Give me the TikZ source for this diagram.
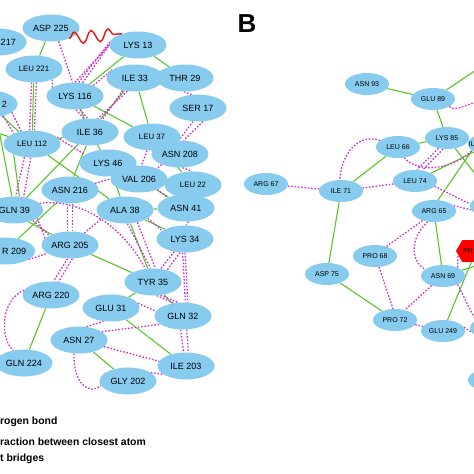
\documentclass[tikz,border=0pt]{standalone}
\usepackage{fontspec}
\setmainfont{Liberation Sans}
\usetikzlibrary{shapes.geometric,decorations.pathmorphing}
\definecolor{nblue}{RGB}{135,203,238}
\definecolor{lgreen}{RGB}{88,200,40}
\definecolor{lmag}{RGB}{204,51,204}
\definecolor{lred}{RGB}{230,20,20}
\pgfdeclarelayer{bg}
\pgfsetlayers{bg,main}
\tikzset{
 lnode/.style={ellipse, fill=nblue, minimum width=57pt, minimum height=27pt, inner sep=0pt, font=\fontsize{9}{9}\selectfont},
 lsmall/.style={lnode, font=\fontsize{7.8}{8}\selectfont},
 rnode/.style={ellipse, fill=nblue, minimum width=44pt, minimum height=22pt, inner sep=0pt, font=\fontsize{7}{7}\selectfont},
 gr/.style={draw=lgreen, line width=1.1pt},
 mg/.style={draw=lmag, line width=1.3pt, dash pattern=on 1.6pt off 1.7pt},
 legend/.style={font=\bfseries\fontsize{10.4}{11}\selectfont, inner sep=0pt, anchor=base west},
}
\begin{document}
\begin{tikzpicture}[x=1pt,y=-1pt]
\useasboundingbox (0,0) rectangle (474,474);
% ---------- panel A nodes
\node[lnode] (asp225) at (51,28) {ASP 225};
\node[lnode] (a217) at (-2,42) {\hphantom{ASP }217};
\node[lnode] (lys13) at (138,45) {LYS 13};
\node[lsmall] (leu221) at (34,69) {LEU 221};
\node[lnode] (ile33) at (135,78) {ILE 33};
\node[lnode] (thr29) at (185,78) {THR 29};
\node[lnode] (lys116) at (75,96) {LYS 116};
\node[lnode] (n2) at (-11,104) {\hphantom{ASP 21}2};
\node[lnode] (ser17) at (198,108) {SER 17};
\node[lnode] (ile36) at (90,132) {ILE 36};
\node[lsmall] (leu37) at (152,137) {LEU 37};
\node[lsmall] (leu112) at (32,144) {LEU 112};
\node[lnode] (asn208) at (180,154) {ASN 208};
\node[lnode] (lys46) at (108,163) {LYS 46};
\node[lnode] (val206) at (139,179) {VAL 206};
\node[lsmall] (leu22) at (193,185) {LEU 22};
\node[lnode] (asn216) at (70,190) {ASN 216};
\node[lnode] (gln39) at (14.5,210) {GLN 39};
\node[lnode] (ala38) at (125,210) {ALA 38};
\node[lnode] (asn41) at (186,208) {ASN 41};
\node[lnode] (r209) at (5,251) {\hphantom{THR}R 209};
\node[lnode] (arg205) at (70,245) {ARG 205};
\node[lnode] (lys34) at (185,239) {LYS 34};
\node[lnode] (tyr35) at (153,282) {TYR 35};
\node[lnode] (arg220) at (51,295) {ARG 220};
\node[lnode] (glu31) at (111,308) {GLU 31};
\node[lnode] (gln32) at (183,316) {GLN 32};
\node[lnode] (asn27) at (79,340) {ASN 27};
\node[lnode] (gln224) at (24,363) {GLN 224};
\node[lnode] (ile203) at (186,366) {ILE 203};
\node[lnode] (gly202) at (128,381) {GLY 202};
\coordinate (cL1) at (-12,130);
\coordinate (cL2) at (-5,110);
% red wavy bond
\draw[lred, line width=1.4pt, decorate, decoration={snake, segment length=17pt, amplitude=6pt}] (asp225.-30) -- (lys13.145);
% ---------- panel B nodes
\node[font=\bfseries\fontsize{26}{26}\selectfont, anchor=base, inner sep=0pt] (lblB) at (247,32) {B};
\node[rnode] (asn93) at (367,84) {ASN 93};
\node[rnode] (glu89) at (433,99) {GLU 89};
\node[rnode] (leu66) at (398,147) {LEU 66};
\node[rnode] (lys85) at (447,138) {LYS 85};
\node[rnode] (pI) at (490,144) {};
\node[font=\fontsize{7}{7}\selectfont, anchor=west, inner sep=0pt] (pItxt) at (468.5,144) {IL};
\node[rnode] (arg67) at (266,184) {ARG 67};
\node[rnode] (ile71) at (341,191) {ILE 71};
\node[rnode] (leu74) at (415,181) {LEU 74};
\node[rnode] (arg65) at (434,211) {ARG 65};
\node[rnode] (pB) at (492,206) {};
\node[regular polygon, regular polygon sides=6, fill=red, minimum size=25pt, inner sep=0pt] (proR) at (468.5,251) {};
\node[font=\fontsize{7}{7}\selectfont, anchor=west, inner sep=0pt] (proTxt) at (463,251) {PR};
\node[rnode] (pro68) at (375,256) {PRO 68};
\node[rnode] (asn69) at (443,276) {ASN 69};
\node[rnode] (asp75) at (327,274) {ASP 75};
\node[rnode] (pro72) at (395,320) {PRO 72};
\node[rnode] (glu249) at (443,331) {GLU 249};
\node[rnode] (pC) at (492,328) {};
\node[rnode] (pD) at (490,380) {};
\coordinate (cTR) at (482,66);
\coordinate (cR2) at (480,180);
\coordinate (cR3) at (482,236);
\coordinate (cR4) at (482,264);
\coordinate (cR5) at (482,100);
% ---------- legend
\node[legend] (lg1) at (0,424) {rogen bond};
\node[legend] (lg2) at (0,445) {raction between closest atom};
\node[legend] (lg3) at (0,461) {t bridges};
% ---------- edges
\begin{pgfonlayer}{bg}
\fill[white] (0,0) rectangle (474,474);
% green A
\path[gr] (asp225) -- (leu221);
\path[gr] (lys13) -- (lys116);
\path[gr] (lys13) -- (thr29);
\path[gr] (leu221) -- (leu112);
\path[gr] (ile33) -- (ile36);
\path[gr] (ile33) -- (leu37);
\path[gr] (lys116) -- (leu37);
\path[gr] (lys116) -- (ile36);
\path[gr] (n2) -- (leu112);
\path[gr] (leu112) -- (ile36);
\path[gr] (leu112) -- (ala38);
\path[gr] (leu112.-150) -- (gln39.70);
\path[gr] (ile36) -- (gln39);
\path[gr] (ile36.-105) -- (asn216.75);
\path[gr] (ile36) -- (lys46);
\path[gr] (leu37) -- (leu22);
\path[gr] (val206) -- (asn41);
\path[gr] (lys46) -- (ala38);
\path[gr] (ala38) -- (asn41);
\path[gr] (ala38) -- (lys34);
\path[gr] (ala38) -- (tyr35);
\path[gr] (gln39.-40) -- (arg205.150);
\path[gr] (asn216) -- (r209);
\path[gr] (arg205) -- (tyr35);
\path[gr] (tyr35) -- (gln32);
\path[gr] (tyr35) -- (glu31);
\path[gr] (arg220) -- (gln224);
\path[gr] (glu31) -- (ile203);
\path[gr] (asn27) -- (gly202);
\path[gr] (cL1) -- (leu112);
\path[gr] (cL2) -- (gln39);
% dotted A
\path[mg] (asp225.-60) -- (lys116.100);
\path[mg] (lys116.60) -- (lys13.160);
\path[mg] (lys116.75) -- (lys13.170);
\path[mg] (lys116.90) -- (lys13.180);
\path[mg] (lys116.30) -- (ile33.160);
\path[mg] (leu221.-30) -- (lys116.160);
\path[mg] (leu221.-100) -- (leu112.100);
\path[mg] (leu221.-80) -- (leu112.80);
\path[mg] (n2.-20) -- (leu112.130);
\path[mg] (n2.-40) -- (leu112.150);
\path[mg] (lys116.-70) -- (ile36.100);
\path[mg] (lys116.-85) -- (ile36.115);
\path[mg] (ile33.-120) -- (ile36.60);
\path[mg] (ile33.-135) -- (ile36.45);
\path[mg] (thr29.-95) -- (ser17.115);
\path[mg] (ser17.-110) -- (asn208.95);
\path[mg] (ser17.-70) -- (asn208.75);
\path[mg] (leu112.-120) -- (gln39.85);
\path[mg] (leu112.-95) -- (gln39.55);
\path[mg] (leu112.15) -- (lys46.160);
\path[mg] (asn216.15) -- (val206.180);
\path[mg] (leu37.-110) -- (val206.80);
\path[mg] (asn208.-150) -- (val206.30);
\path[mg] (asn208.-80) -- (leu22.95);
\path[mg] (val206.-30) -- (asn41.150);
\path[mg] (asn216.-100) -- (arg205.100);
\path[mg] (asn216.-80) -- (arg205.80);
\path[mg] (gln39.-20) -- (arg205.165);
\path[mg] (gln39.-30) -- (arg205.155);
\path[mg] (gln39.15) .. controls (85,198) and (125,230) .. (tyr35.120);
\path[mg] (ala38.-80) -- (tyr35.100);
\path[mg] (ala38.-45) -- (tyr35.80);
\path[mg] (arg205.40) -- (ala38.200);
\path[mg] (r209.-20) -- (arg205.-160);
\path[mg] (arg205.-100) -- (arg220.80);
\path[mg] (arg205.-80) -- (arg220.60);
\path[mg] (arg220.170) .. controls (0,300) and (0,340) .. (gln224.130);
\path[mg] (ala38.-20) -- (lys34.160);
\path[mg] (lys34.-130) -- (tyr35.60);
\path[mg] (lys34.-110) -- (tyr35.40);
\path[mg] (asn41.-80) -- (lys34.85);
\path[mg] (lys34.-100) -- (gln32.80);
\path[mg] (lys34.-90) -- (gln32.70);
\path[mg] (tyr35.-60) -- (gln32.110);
\path[mg] (tyr35.-75) -- (gln32.125);
\path[mg] (glu31.10) -- (gln32.170);
\path[mg] (asn27.20) -- (gln32.200);
\path[mg] (asn27.60) -- (glu31.-120);
\path[mg] (asn27.-15) -- (ile203.170);
\path[mg] (gln32.-100) -- (ile203.100);
\path[mg] (gln32.-75) -- (ile203.80);
\path[mg] (gly202.20) -- (ile203.-160);
\path[mg] (asn27.-110) .. controls (73,385) and (90,395) .. (gly202.190);
% green B
\path[gr] (asn93) -- (glu89);
\path[gr] (glu89) -- (cTR);
\path[gr] (glu89) -- (lys85);
\path[gr] (leu66) -- (lys85);
\path[gr] (leu66) -- (ile71);
\path[gr] (leu74) -- (pI);
\path[gr] (arg65.70) -- (pI.200);
\path[gr] (lys85) -- (cR2);
\path[gr] (ile71) -- (asp75);
\path[gr] (asp75) -- (pro72);
\path[gr] (arg65) -- (asn69);
\path[gr] (asn69) -- (cR4);
\path[gr] (glu249) -- (cR3);
% dotted B
\path[mg] (glu89.-25) .. controls (455,112) and (465,105) .. (cR5);
\path[mg] (leu66.160) .. controls (355,132) and (340,160) .. (ile71.95);
\path[mg] (lys85.-130) -- (leu74.80);
\path[mg] (lys85.-110) -- (leu74.55);
\path[mg] (leu66.-60) .. controls (420,175) and (455,168) .. (pI.200);
\path[mg] (ile71) -- (leu74);
\path[mg] (ile71) -- (arg67);
\path[mg] (leu74.-15) -- (pB.175);
\path[mg] (arg65.15) -- (pB.190);
\path[mg] (arg65.-140) -- (pro68.40);
\path[mg] (arg65.-120) .. controls (408,240) and (412,262) .. (asn69.160);
\path[mg] (asn69.-140) -- (pro72.45);
\path[mg] (pro68.-70) -- (pro72.100);
\path[mg] (pro72) -- (glu249);
\path[mg] (asn69.30) -- (proR.200);
\path[mg] (asn69.-30) -- (pC.155);
\path[mg] (glu249.10) -- (pC.190);
\end{pgfonlayer}
\end{tikzpicture}
\end{document}
